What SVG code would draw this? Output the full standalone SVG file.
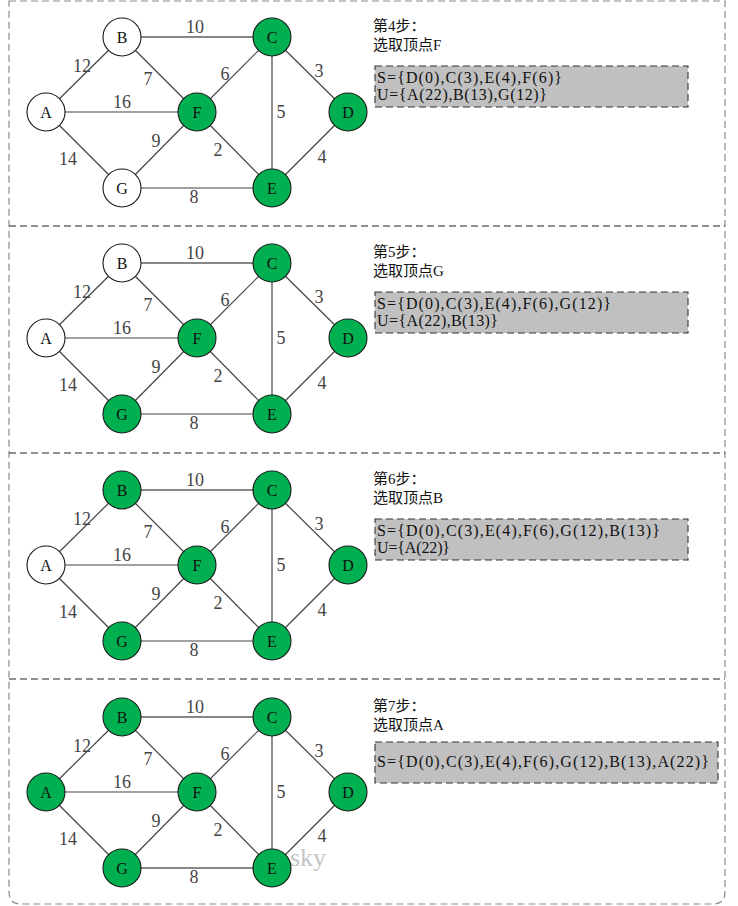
<svg xmlns="http://www.w3.org/2000/svg" width="738" height="906" viewBox="0 0 738 906">
<defs>
<style>
.bg{fill:#ffffff}
.outer{fill:none;stroke:#8a8a8a;stroke-width:1.2;stroke-dasharray:7 4}
.sep{fill:none;stroke:#222;stroke-width:1.2;stroke-dasharray:7 4}
.edge{stroke:#444;stroke-width:1.2}
.edge-dark{stroke:#111;stroke-width:1.2}
.n{stroke:#1a1a1a;stroke-width:1.1}
.w{fill:#ffffff}
.g{fill:#00b050}
.nl{font-family:"Liberation Serif","DejaVu Serif",serif;font-size:16px;fill:#111;text-anchor:middle}
.el{font-family:"Liberation Serif","DejaVu Serif",serif;font-size:18px;fill:#444;text-anchor:middle}
.box{fill:#c0c0c0;stroke:#333;stroke-width:1.1;stroke-dasharray:7 4}
.bt{font-family:"Liberation Serif","DejaVu Serif",serif;font-size:16px;fill:#111}
.title{font-family:"Liberation Serif","Noto Sans CJK SC",sans-serif;font-size:15px;fill:#111}
.wm{font-family:"Liberation Serif","DejaVu Serif",serif;font-size:26px;fill:#c4c4c4}
</style>
</defs>
<rect class="bg" x="0" y="0" width="738" height="906"/>
<path class="outer" d="M9,1 H725 V892 Q725,904 713,904 H21 Q9,904 9,892 Z"/>
<g id="separators">
<line class="sep" x1="9" y1="226" x2="725" y2="226"/>
<line class="sep" x1="9" y1="453" x2="725" y2="453"/>
<line class="sep" x1="9" y1="679" x2="725" y2="679"/>
</g>

<!-- Panel 1 -->
<g id="panel1">
<g id="p1-connectors">
<line class="edge-dark" x1="122" y1="37" x2="272" y2="37"/>
<line class="edge" x1="46" y1="112" x2="122" y2="37"/>
<line class="edge" x1="46" y1="112" x2="197" y2="112"/>
<line class="edge" x1="46" y1="112" x2="122" y2="188"/>
<line class="edge" x1="122" y1="37" x2="197" y2="112"/>
<line class="edge" x1="122" y1="188" x2="197" y2="112"/>
<line class="edge" x1="122" y1="188" x2="272" y2="188"/>
<line class="edge" x1="197" y1="112" x2="272" y2="37"/>
<line class="edge" x1="197" y1="112" x2="272" y2="188"/>
<line class="edge" x1="272" y1="37" x2="272" y2="188"/>
<line class="edge" x1="272" y1="37" x2="348" y2="112"/>
<line class="edge" x1="272" y1="188" x2="348" y2="112"/>
</g>
<g id="p1-edge-labels">
<text class="el" x="195" y="33">10</text>
<text class="el" x="82" y="72">12</text>
<text class="el" x="148" y="85">7</text>
<text class="el" x="122" y="108">16</text>
<text class="el" x="225" y="80">6</text>
<text class="el" x="319" y="77">3</text>
<text class="el" x="281" y="118">5</text>
<text class="el" x="156" y="147">9</text>
<text class="el" x="218" y="156">2</text>
<text class="el" x="68" y="165">14</text>
<text class="el" x="322" y="163">4</text>
<text class="el" x="194" y="203">8</text>
</g>
<g id="p1-A"><circle class="n w" cx="46" cy="112" r="19"/><text class="nl" x="46" y="118">A</text></g>
<g id="p1-B"><circle class="n w" cx="122" cy="37" r="19"/><text class="nl" x="122" y="43">B</text></g>
<g id="p1-C"><circle class="n g" cx="272" cy="37" r="19"/><text class="nl" x="272" y="43">C</text></g>
<g id="p1-D"><circle class="n g" cx="348" cy="112" r="19"/><text class="nl" x="348" y="118">D</text></g>
<g id="p1-F"><circle class="n g" cx="197" cy="112" r="19"/><text class="nl" x="197" y="118">F</text></g>
<g id="p1-G"><circle class="n w" cx="122" cy="188" r="19"/><text class="nl" x="122" y="194">G</text></g>
<g id="p1-E"><circle class="n g" cx="272" cy="188" r="19"/><text class="nl" x="272" y="194">E</text></g>
<g id="p1-info">
<text class="title" x="373" y="31">第4步：</text>
<text class="title" x="373" y="50">选取顶点F</text>
<rect class="box" x="375" y="66" width="313" height="41"/>
<text class="bt" x="377" y="83" textLength="185" lengthAdjust="spacing">S={D(0),C(3),E(4),F(6)}</text>
<text class="bt" x="377" y="100" textLength="170" lengthAdjust="spacing">U={A(22),B(13),G(12)}</text>
</g>
</g>

<!-- Panel 2 -->
<g id="panel2" transform="translate(0,226)">
<g id="p2-connectors">
<line class="edge-dark" x1="122" y1="37" x2="272" y2="37"/>
<line class="edge" x1="46" y1="112" x2="122" y2="37"/>
<line class="edge" x1="46" y1="112" x2="197" y2="112"/>
<line class="edge" x1="46" y1="112" x2="122" y2="188"/>
<line class="edge" x1="122" y1="37" x2="197" y2="112"/>
<line class="edge" x1="122" y1="188" x2="197" y2="112"/>
<line class="edge" x1="122" y1="188" x2="272" y2="188"/>
<line class="edge" x1="197" y1="112" x2="272" y2="37"/>
<line class="edge" x1="197" y1="112" x2="272" y2="188"/>
<line class="edge" x1="272" y1="37" x2="272" y2="188"/>
<line class="edge" x1="272" y1="37" x2="348" y2="112"/>
<line class="edge" x1="272" y1="188" x2="348" y2="112"/>
</g>
<g id="p2-edge-labels">
<text class="el" x="195" y="33">10</text>
<text class="el" x="82" y="72">12</text>
<text class="el" x="148" y="85">7</text>
<text class="el" x="122" y="108">16</text>
<text class="el" x="225" y="80">6</text>
<text class="el" x="319" y="77">3</text>
<text class="el" x="281" y="118">5</text>
<text class="el" x="156" y="147">9</text>
<text class="el" x="218" y="156">2</text>
<text class="el" x="68" y="165">14</text>
<text class="el" x="322" y="163">4</text>
<text class="el" x="194" y="203">8</text>
</g>
<g id="p2-A"><circle class="n w" cx="46" cy="112" r="19"/><text class="nl" x="46" y="118">A</text></g>
<g id="p2-B"><circle class="n w" cx="122" cy="37" r="19"/><text class="nl" x="122" y="43">B</text></g>
<g id="p2-C"><circle class="n g" cx="272" cy="37" r="19"/><text class="nl" x="272" y="43">C</text></g>
<g id="p2-D"><circle class="n g" cx="348" cy="112" r="19"/><text class="nl" x="348" y="118">D</text></g>
<g id="p2-F"><circle class="n g" cx="197" cy="112" r="19"/><text class="nl" x="197" y="118">F</text></g>
<g id="p2-G"><circle class="n g" cx="122" cy="188" r="19"/><text class="nl" x="122" y="194">G</text></g>
<g id="p2-E"><circle class="n g" cx="272" cy="188" r="19"/><text class="nl" x="272" y="194">E</text></g>
<g id="p2-info">
<text class="title" x="373" y="31">第5步：</text>
<text class="title" x="373" y="50">选取顶点G</text>
<rect class="box" x="375" y="66" width="313" height="41"/>
<text class="bt" x="377" y="83" textLength="234" lengthAdjust="spacing">S={D(0),C(3),E(4),F(6),G(12)}</text>
<text class="bt" x="377" y="100" textLength="121" lengthAdjust="spacing">U={A(22),B(13)}</text>
</g>
</g>

<!-- Panel 3 -->
<g id="panel3" transform="translate(0,453)">
<g id="p3-connectors">
<line class="edge-dark" x1="122" y1="37" x2="272" y2="37"/>
<line class="edge" x1="46" y1="112" x2="122" y2="37"/>
<line class="edge" x1="46" y1="112" x2="197" y2="112"/>
<line class="edge" x1="46" y1="112" x2="122" y2="188"/>
<line class="edge" x1="122" y1="37" x2="197" y2="112"/>
<line class="edge" x1="122" y1="188" x2="197" y2="112"/>
<line class="edge" x1="122" y1="188" x2="272" y2="188"/>
<line class="edge" x1="197" y1="112" x2="272" y2="37"/>
<line class="edge" x1="197" y1="112" x2="272" y2="188"/>
<line class="edge" x1="272" y1="37" x2="272" y2="188"/>
<line class="edge" x1="272" y1="37" x2="348" y2="112"/>
<line class="edge" x1="272" y1="188" x2="348" y2="112"/>
</g>
<g id="p3-edge-labels">
<text class="el" x="195" y="33">10</text>
<text class="el" x="82" y="72">12</text>
<text class="el" x="148" y="85">7</text>
<text class="el" x="122" y="108">16</text>
<text class="el" x="225" y="80">6</text>
<text class="el" x="319" y="77">3</text>
<text class="el" x="281" y="118">5</text>
<text class="el" x="156" y="147">9</text>
<text class="el" x="218" y="156">2</text>
<text class="el" x="68" y="165">14</text>
<text class="el" x="322" y="163">4</text>
<text class="el" x="194" y="203">8</text>
</g>
<g id="p3-A"><circle class="n w" cx="46" cy="112" r="19"/><text class="nl" x="46" y="118">A</text></g>
<g id="p3-B"><circle class="n g" cx="122" cy="37" r="19"/><text class="nl" x="122" y="43">B</text></g>
<g id="p3-C"><circle class="n g" cx="272" cy="37" r="19"/><text class="nl" x="272" y="43">C</text></g>
<g id="p3-D"><circle class="n g" cx="348" cy="112" r="19"/><text class="nl" x="348" y="118">D</text></g>
<g id="p3-F"><circle class="n g" cx="197" cy="112" r="19"/><text class="nl" x="197" y="118">F</text></g>
<g id="p3-G"><circle class="n g" cx="122" cy="188" r="19"/><text class="nl" x="122" y="194">G</text></g>
<g id="p3-E"><circle class="n g" cx="272" cy="188" r="19"/><text class="nl" x="272" y="194">E</text></g>
<g id="p3-info">
<text class="title" x="373" y="31">第6步：</text>
<text class="title" x="373" y="50">选取顶点B</text>
<rect class="box" x="375" y="66" width="313" height="41"/>
<text class="bt" x="377" y="83" textLength="283" lengthAdjust="spacing">S={D(0),C(3),E(4),F(6),G(12),B(13)}</text>
<text class="bt" x="377" y="100" textLength="73" lengthAdjust="spacing">U={A(22)}</text>
</g>
</g>

<!-- Panel 4 -->
<g id="panel4" transform="translate(0,680)">
<g id="p4-connectors">
<line class="edge-dark" x1="122" y1="37" x2="272" y2="37"/>
<line class="edge" x1="46" y1="112" x2="122" y2="37"/>
<line class="edge" x1="46" y1="112" x2="197" y2="112"/>
<line class="edge" x1="46" y1="112" x2="122" y2="188"/>
<line class="edge" x1="122" y1="37" x2="197" y2="112"/>
<line class="edge" x1="122" y1="188" x2="197" y2="112"/>
<line class="edge-dark" x1="122" y1="188" x2="272" y2="188"/>
<line class="edge" x1="197" y1="112" x2="272" y2="37"/>
<line class="edge" x1="197" y1="112" x2="272" y2="188"/>
<line class="edge" x1="272" y1="37" x2="272" y2="188"/>
<line class="edge" x1="272" y1="37" x2="348" y2="112"/>
<line class="edge" x1="272" y1="188" x2="348" y2="112"/>
</g>
<g id="p4-edge-labels">
<text class="el" x="195" y="33">10</text>
<text class="el" x="82" y="72">12</text>
<text class="el" x="148" y="85">7</text>
<text class="el" x="122" y="108">16</text>
<text class="el" x="225" y="80">6</text>
<text class="el" x="319" y="77">3</text>
<text class="el" x="281" y="118">5</text>
<text class="el" x="156" y="147">9</text>
<text class="el" x="218" y="156">2</text>
<text class="el" x="68" y="165">14</text>
<text class="el" x="322" y="162">4</text>
<text class="el" x="194" y="203">8</text>
</g>
<text class="wm" x="290" y="186">sky</text>
<g id="p4-A"><circle class="n g" cx="46" cy="112" r="19"/><text class="nl" x="46" y="118">A</text></g>
<g id="p4-B"><circle class="n g" cx="122" cy="37" r="19"/><text class="nl" x="122" y="43">B</text></g>
<g id="p4-C"><circle class="n g" cx="272" cy="37" r="19"/><text class="nl" x="272" y="43">C</text></g>
<g id="p4-D"><circle class="n g" cx="348" cy="112" r="19"/><text class="nl" x="348" y="118">D</text></g>
<g id="p4-F"><circle class="n g" cx="197" cy="112" r="19"/><text class="nl" x="197" y="118">F</text></g>
<g id="p4-G"><circle class="n g" cx="122" cy="188" r="19"/><text class="nl" x="122" y="194">G</text></g>
<g id="p4-E"><circle class="n g" cx="272" cy="188" r="19"/><text class="nl" x="272" y="194">E</text></g>
<g id="p4-info">
<text class="title" x="373" y="31">第7步：</text>
<text class="title" x="373" y="50">选取顶点A</text>
<rect class="box" x="375" y="62" width="343" height="41"/>
<text class="bt" x="377" y="87" textLength="332" lengthAdjust="spacing">S={D(0),C(3),E(4),F(6),G(12),B(13),A(22)}</text>
</g>
</g>
</svg>
